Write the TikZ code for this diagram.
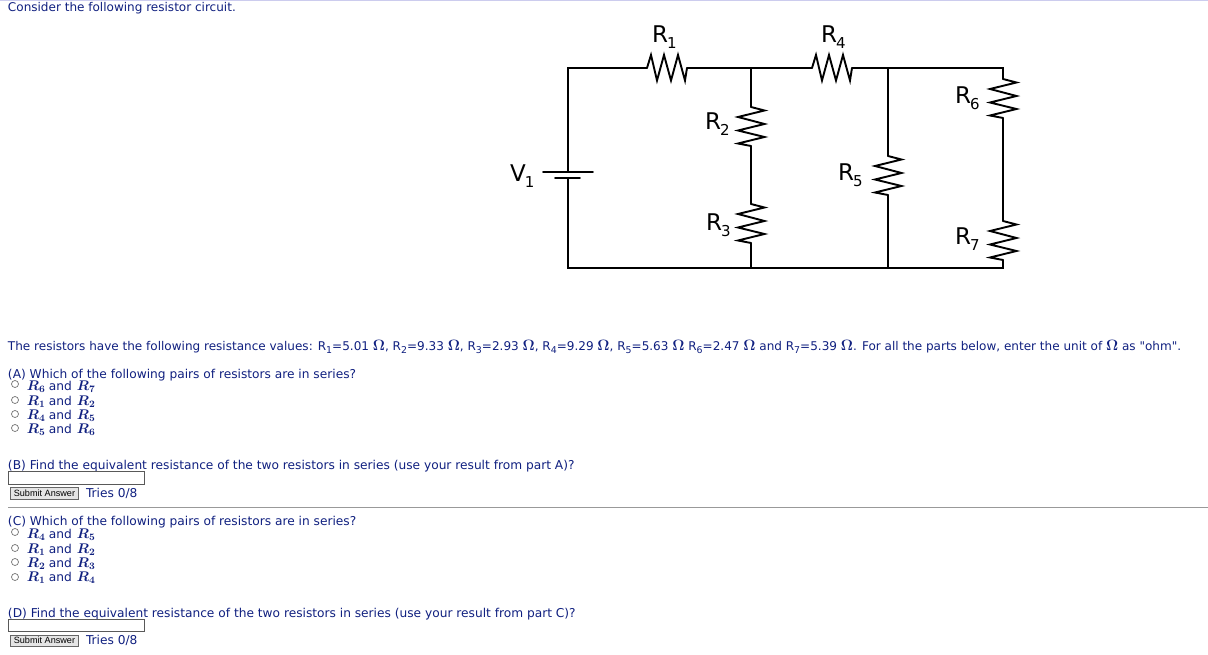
\documentclass[tikz,border=0pt]{standalone}
\usepackage{fix-cm}
\usepackage[no-math]{fontspec}
\setmainfont{DejaVu Sans}
\newfontfamily\plainf{DejaVu Sans}
\newfontfamily\btnfont{Liberation Sans}
\definecolor{navytext}{RGB}{16,32,128}
\usepackage{amsmath,amsbsy}
\newcommand{\sbt}[1]{\raisebox{-3.6pt}{\fontsize{9.4}{10}\selectfont #1}}
\newcommand{\ohm}{{\fontsize{15}{15}\selectfont$\boldsymbol{\Omega}$}}
\newcommand{\lsb}[1]{\kern-.8pt\raisebox{-5.5pt}{\fontsize{15}{15}\selectfont #1}}
\newcommand{\pair}[2]{\makebox[22pt][l]{\fontsize{14}{15}\selectfont\boldmath$#1$}\makebox[28pt][l]{and}{\fontsize{14}{15}\selectfont\boldmath$#2$}}
\tikzset{
  x=1pt,y=-1pt,
  wire/.style={line width=1.9pt,black,line join=miter,line cap=round},
  txt/.style={anchor=base west,inner sep=0pt,outer sep=0pt,text=navytext,font=\fontsize{12.2}{14}\selectfont},
  txtlong/.style={txt,font=\fontsize{12.03}{14}\selectfont},
  lab/.style={anchor=base west,inner sep=0pt,outer sep=0pt,text=black,font=\fontsize{23}{24}\selectfont},
  radio/.style={circle,draw=black!55,line width=.7pt,fill=white,minimum size=7pt,inner sep=0pt},
  inbox/.style={anchor=north west,draw=black!65,line width=.8pt,fill=white,minimum width=136pt,minimum height=12.5pt,inner sep=0pt},
  btn/.style={anchor=north west,draw=black!60,line width=.9pt,fill=black!10,minimum width=68pt,minimum height=11.5pt,inner sep=0pt,text=black,font=\btnfont\fontsize{9.1}{10}\selectfont},
  vres/.pic={
    \coordinate (-a) at (0,0);
    \coordinate (-b) at (0,39);
    \draw[wire] (0,0) -- (13.5,3.5) -- (-13,10) -- (13.5,17) -- (-13,23.5) -- (13.5,30) -- (-13,36.5) -- (0,39);
  },
  hres/.pic={
    \coordinate (-a) at (0,0);
    \coordinate (-b) at (40,0);
    \draw[wire] (0,0) -- (4,-13) -- (10,12.5) -- (17,-13) -- (24,12.5) -- (31,-13) -- (38,12.5) -- (40,0);
  }
}
\begin{document}
\begin{tikzpicture}
\useasboundingbox (0,0) rectangle (1208,655);
\fill[white] (0,0) rectangle (1208,655);
% page rules
\coordinate (topL) at (0,0.5);
\coordinate (topR) at (1208,0.5);
\coordinate (midL) at (8,507.5);
\coordinate (midR) at (1208,507.5);
\draw[line width=1pt,color={rgb,255:red,204;green,204;blue,238}] (topL) -- (topR);
\draw[line width=1pt,black!40] (midL) -- (midR);
% circuit
\pic (R1) at (647,68) {hres};
\pic (R4) at (812,68) {hres};
\pic (R2) at (751,107) {vres};
\pic (R3) at (751,204) {vres};
\pic (R5) at (888,156) {vres};
\pic (R6) at (1003,79) {vres};
\pic (R7) at (1003,221) {vres};
\coordinate (TL) at (568,68);
\coordinate (BL) at (568,268);
\coordinate (J1) at (751,68);
\coordinate (J2) at (888,68);
\coordinate (TR) at (1003,68);
\coordinate (B1) at (751,268);
\coordinate (B2) at (888,268);
\coordinate (BR) at (1003,268);
\coordinate (batA) at (568,172);
\coordinate (batB) at (568,178);
\coordinate (pL) at (543,172);
\coordinate (pR) at (593,172);
\coordinate (qL) at (555,178);
\coordinate (qR) at (580,178);
\draw[wire] (batA) -- (TL) -- (R1-a);
\draw[wire] (R1-b) -- (J1) -- (R4-a);
\draw[wire] (R4-b) -- (J2) -- (TR) -- (R6-a);
\draw[wire] (J1) -- (R2-a);
\draw[wire] (R2-b) -- (R3-a);
\draw[wire] (R3-b) -- (B1);
\draw[wire] (J2) -- (R5-a);
\draw[wire] (R5-b) -- (B2);
\draw[wire] (R6-b) -- (R7-a);
\draw[wire] (R7-b) -- (BR) -- (B2) -- (B1) -- (BL) -- (batB);
\draw[wire] (pL) -- (pR);
\draw[wire] (qL) -- (qR);
% circuit labels
\node[lab] (lR1) at (652,43) {R\lsb{1}};
\node[lab] (lR4) at (821,43) {R\lsb{4}};
\node[lab] (lR2) at (705,130) {R\lsb{2}};
\node[lab] (lR3) at (706,231) {R\lsb{3}};
\node[lab] (lV1) at (510,182) {V\lsb{1}};
\node[lab] (lR5) at (838,181) {R\lsb{5}};
\node[lab] (lR6) at (955,104) {R\lsb{6}};
\node[lab] (lR7) at (955,245) {R\lsb{7}};
% texts
\node[txtlong] (t0) at (8,12) {Consider the following resistor circuit.};
\node[txtlong] (t1) at (8,350) {The resistors have the following resistance values: R\sbt{1}=5.01 \ohm, R\sbt{2}=9.33 \ohm, R\sbt{3}=2.93 \ohm, R\sbt{4}=9.29 \ohm, R\sbt{5}=5.63 \ohm\ R\sbt{6}=2.47 \ohm\ and R\sbt{7}=5.39 \ohm. For all the parts below, enter the unit of \ohm\ as {\plainf "ohm"}.};
\node[txt] (A) at (8,378) {(A) Which of the following pairs of resistors are in series?};
\node[radio] (ra1) at (15,384) {};
\node[radio] (ra2) at (15,400) {};
\node[radio] (ra3) at (15,414) {};
\node[radio] (ra4) at (15,428) {};
\node[txt] (a1) at (27,390) {\pair{R_6}{R_7}};
\node[txt] (a2) at (27,405) {\pair{R_1}{R_2}};
\node[txt] (a3) at (27,419) {\pair{R_4}{R_5}};
\node[txt] (a4) at (27,433) {\pair{R_5}{R_6}};
\node[txt] (B) at (8,469) {(B) Find the equivalent resistance of the two resistors in series (use your result from part A)?};
\node[inbox] (ib) at (8,471) {};
\node[btn] (bb) at (10,487) {Submit Answer};
\node[txt] (tb) at (86,497) {Tries 0/8};
\node[txt] (C) at (8,525) {(C) Which of the following pairs of resistors are in series?};
\node[radio] (rc1) at (15,532) {};
\node[radio] (rc2) at (15,548) {};
\node[radio] (rc3) at (15,562) {};
\node[radio] (rc4) at (15,577) {};
\node[txt] (c1) at (27,538) {\pair{R_4}{R_5}};
\node[txt] (c2) at (27,553) {\pair{R_1}{R_2}};
\node[txt] (c3) at (27,567) {\pair{R_2}{R_3}};
\node[txt] (c4) at (27,581) {\pair{R_1}{R_4}};
\node[txt] (D) at (8,617) {(D) Find the equivalent resistance of the two resistors in series (use your result from part C)?};
\node[inbox] (id) at (8,618.5) {};
\node[btn] (bd) at (10,634.5) {Submit Answer};
\node[txt] (td) at (86,644) {Tries 0/8};
\end{tikzpicture}
\end{document}
